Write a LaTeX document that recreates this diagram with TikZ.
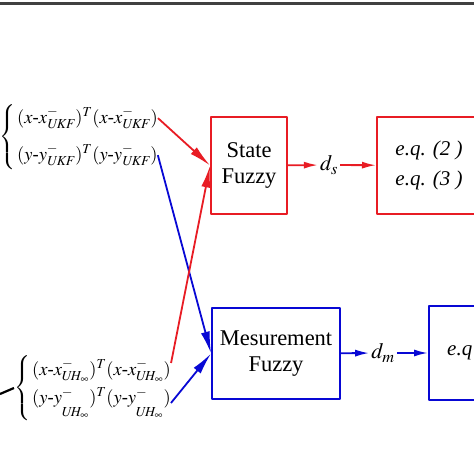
\documentclass[tikz,border=0pt]{standalone}
\usepackage{amssymb,amsmath}
\usepackage{mathptmx}
\usepackage{fontspec}
\setmainfont{Liberation Serif}
\usepackage{tikz}
\usetikzlibrary{arrows.meta}
\definecolor{fzred}{RGB}{232,28,36}
\definecolor{fzblue}{RGB}{8,8,212}
\newcommand{\ukfsub}{\mathit{UKF}}
\newcommand{\uhsub}{U\!H_{\infty}}
\tikzset{
  fzbox/.style={draw=#1,line width=1.8pt,text=black,align=center,font=\fontsize{22.5}{26}\selectfont},
  fzarrow/.style={line width=1.8pt,-{Latex[length=22pt,width=9pt]}},
  darrow/.style={line width=1.8pt,-{Latex[length=14pt,width=7pt]}},
  eqn/.style={inner sep=0pt,anchor=base west,font=\fontsize{18.5}{22}\selectfont},
  bracebox/.style={inner sep=0pt,anchor=east,font=\fontsize{18}{20}\selectfont},
  eqtxt/.style={align=left,font=\fontsize{21}{30}\selectfont\itshape},
}

\begin{document}
\begin{tikzpicture}[x=1pt,y=-1pt,join=round] % fuzzy distance blocks
  \useasboundingbox (0,0) rectangle (474,474);
  \clip (0,0) rectangle (474,474);
  \draw[line width=3pt,black!75] (0,3.5) -- (474,3.5);
  % innovation terms
  \node[bracebox] (ukfbrace) at (16,137) {$\left\{\rule[-27pt]{0pt}{54pt}\right.\nulldelimiterspace=0pt$};
  \node[eqn] (ukfx) at (17,123) {$(x\mbox{-}x^{-}_{\ukfsub})^{T}(x\mbox{-}x^{-}_{\ukfsub})$};
  \node[eqn] (ukfy) at (17,160) {$(y\mbox{-}y^{-}_{\ukfsub})^{T}(y\mbox{-}y^{-}_{\ukfsub})$};
  \node[bracebox] (uhbrace) at (31,388) {$\left\{\rule[-27pt]{0pt}{54pt}\right.\nulldelimiterspace=0pt$};
  \draw[line width=2.2pt] (0,394) -- (14,388);
  \node[eqn] (uhx) at (32,375) {$(x\mbox{-}x^{-}_{\uhsub})^{T}(x\mbox{-}x^{-}_{\uhsub})$};
  \node[eqn] (uhy) at (32,403) {$(y\mbox{-}y^{-}_{\lower9pt\hbox{$\scriptstyle\uhsub$}})^{T}(y\mbox{-}y^{-}_{\lower9pt\hbox{$\scriptstyle\uhsub$}})$};
  % fuzzy blocks
  \node[fzbox=fzred,minimum width=76pt,minimum height=97pt] (state) at (249,165.5) {State\\Fuzzy};
  \node[fzbox=fzblue,minimum width=128pt,minimum height=91pt] (mes) at (276,353.5) {Mesurement\\Fuzzy};
  \node[fzbox=fzred,anchor=west,minimum width=130pt,minimum height=97pt] (eqs) at (376,165.5) {};
  \node[fzbox=fzblue,anchor=west,minimum width=130pt,minimum height=94pt] (eqm) at (428,353) {};
  \node[eqtxt] (eqstxt) at (429,165) {e.q. (2 )\\e.q. (3 )};
  \node[eqtxt,anchor=west,inner sep=0pt] (eqmtxt) at (447,353) {e.q};
  \node[font=\fontsize{22}{24}\selectfont,inner sep=2pt] (ds) at (329,165) {$d_s$};
  \node[font=\fontsize{22}{24}\selectfont,inner sep=2pt] (dm) at (383,353) {$d_m$};
  % connectors
  \draw[fzred,fzarrow] (ukfx.east) -- (state.west);
  \draw[fzblue,fzarrow] (ukfy.east) -- (mes.west);
  \draw[fzred,fzarrow] ([yshift=8pt]uhx.east) -- (state.west);
  \draw[fzblue,fzarrow] (uhy.east) -- (mes.west);
  \draw[fzred,darrow] (state) -- (ds);
  \draw[fzred,darrow] (ds) -- (eqs);
  \draw[fzblue,darrow] (mes) -- (dm);
  \draw[fzblue,darrow] (dm) -- (eqm);
\end{tikzpicture}
\end{document}
